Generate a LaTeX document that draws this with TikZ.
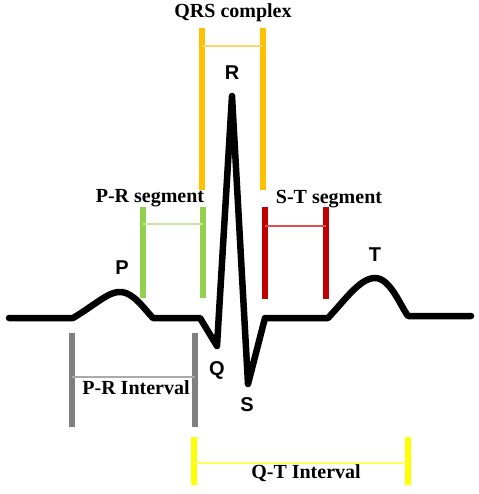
\documentclass[tikz,border=0pt]{standalone}
\usepackage{fontspec}
\setmainfont{Liberation Serif}
\newfontfamily\wavefont{Liberation Sans}
\definecolor{qrsorange}{RGB}{255,192,0}
\definecolor{qrsorangelt}{RGB}{255,215,110}
\definecolor{prgreen}{RGB}{146,208,80}
\definecolor{prgreenlt}{RGB}{196,230,160}
\definecolor{stred}{RGB}{192,0,0}
\definecolor{stredlt}{RGB}{220,80,80}
\definecolor{intgray}{RGB}{128,128,128}
\definecolor{intgraylt}{RGB}{170,170,170}
\definecolor{qtyellow}{RGB}{255,255,0}
\definecolor{qtyellowlt}{RGB}{255,255,90}
\begin{document}
\begin{tikzpicture}[x=1pt,y=-1pt,
  wave/.style={line width=6.5pt,line join=round,line cap=round,black},
  bar/.style={line width=6pt},
  link/.style={line width=1.5pt},
  serlabel/.style={font=\bfseries\fontsize{20}{20}\selectfont,inner sep=0pt},
  wavelabel/.style={font=\wavefont\bfseries\fontsize{20}{20}\selectfont,inner sep=0pt}]
\useasboundingbox (0,0) rectangle (478,494);
\fill[white] (0,0) rectangle (478,494);
% waveform
\draw[wave] (9,318) -- (73,318) .. controls (95,305) and (110,290) .. (122,292)
  .. controls (135,294) and (145,310) .. (153,318) -- (200,318) -- (217,346)
  -- (232,96) -- (248,384) -- (265,318) -- (328,318)
  .. controls (345,300) and (360,278) .. (375,278)
  .. controls (390,278) and (400,305) .. (408,316) -- (471,316);
% wave labels
\node[wavelabel] (P) at (122,268) {P};
\node[wavelabel] (R) at (232,73) {R};
\node[wavelabel] (Q) at (217,370) {Q};
\node[wavelabel] (S) at (247,405) {S};
\node[wavelabel] (T) at (375,255) {T};
% QRS complex
\coordinate (qa1) at (202,28); \coordinate (qa2) at (202,190);
\coordinate (qb1) at (263,28); \coordinate (qb2) at (263,190);
\coordinate (qla) at (202,46); \coordinate (qlb) at (263,46);
\draw[bar,qrsorange] (qa1) -- (qa2);
\draw[bar,qrsorange] (qb1) -- (qb2);
\draw[link,qrsorangelt] (qla) -- (qlb);
\node[serlabel] (qrs) at (233,13) {QRS complex};
% P-R segment
\coordinate (pa1) at (143,207); \coordinate (pa2) at (143,298);
\coordinate (pb1) at (203,207); \coordinate (pb2) at (203,298);
\coordinate (pla) at (143,224); \coordinate (plb) at (203,224);
\draw[bar,prgreen] (pa1) -- (pa2);
\draw[bar,prgreen] (pb1) -- (pb2);
\draw[link,prgreenlt] (pla) -- (plb);
\node[serlabel] (prs) at (150,198) {P-R segment};
% S-T segment
\coordinate (sa1) at (265,207); \coordinate (sa2) at (265,299);
\coordinate (sb1) at (326,207); \coordinate (sb2) at (326,299);
\coordinate (sla) at (265,226); \coordinate (slb) at (326,226);
\draw[bar,stred] (sa1) -- (sa2);
\draw[bar,stred] (sb1) -- (sb2);
\draw[link,stredlt] (sla) -- (slb);
\node[serlabel] (sts) at (329,199) {S-T segment};
% P-R interval
\coordinate (ia1) at (72,333); \coordinate (ia2) at (72,427);
\coordinate (ib1) at (195,333); \coordinate (ib2) at (195,427);
\coordinate (ila) at (72,377); \coordinate (ilb) at (195,377);
\draw[bar,intgray] (ia1) -- (ia2);
\draw[bar,intgray] (ib1) -- (ib2);
\draw[link,intgraylt] (ila) -- (ilb);
\node[serlabel] (pri) at (136,388) {P-R Interval};
% Q-T interval
\coordinate (ta1) at (194,437); \coordinate (ta2) at (194,485);
\coordinate (tb1) at (408,437); \coordinate (tb2) at (408,485);
\coordinate (tla) at (194,463); \coordinate (tlb) at (408,463);
\draw[bar,qtyellow] (ta1) -- (ta2);
\draw[bar,qtyellow] (tb1) -- (tb2);
\draw[link,qtyellowlt] (tla) -- (tlb);
\node[serlabel] (qti) at (306,473) {Q-T Interval};
\end{tikzpicture}
\end{document}
